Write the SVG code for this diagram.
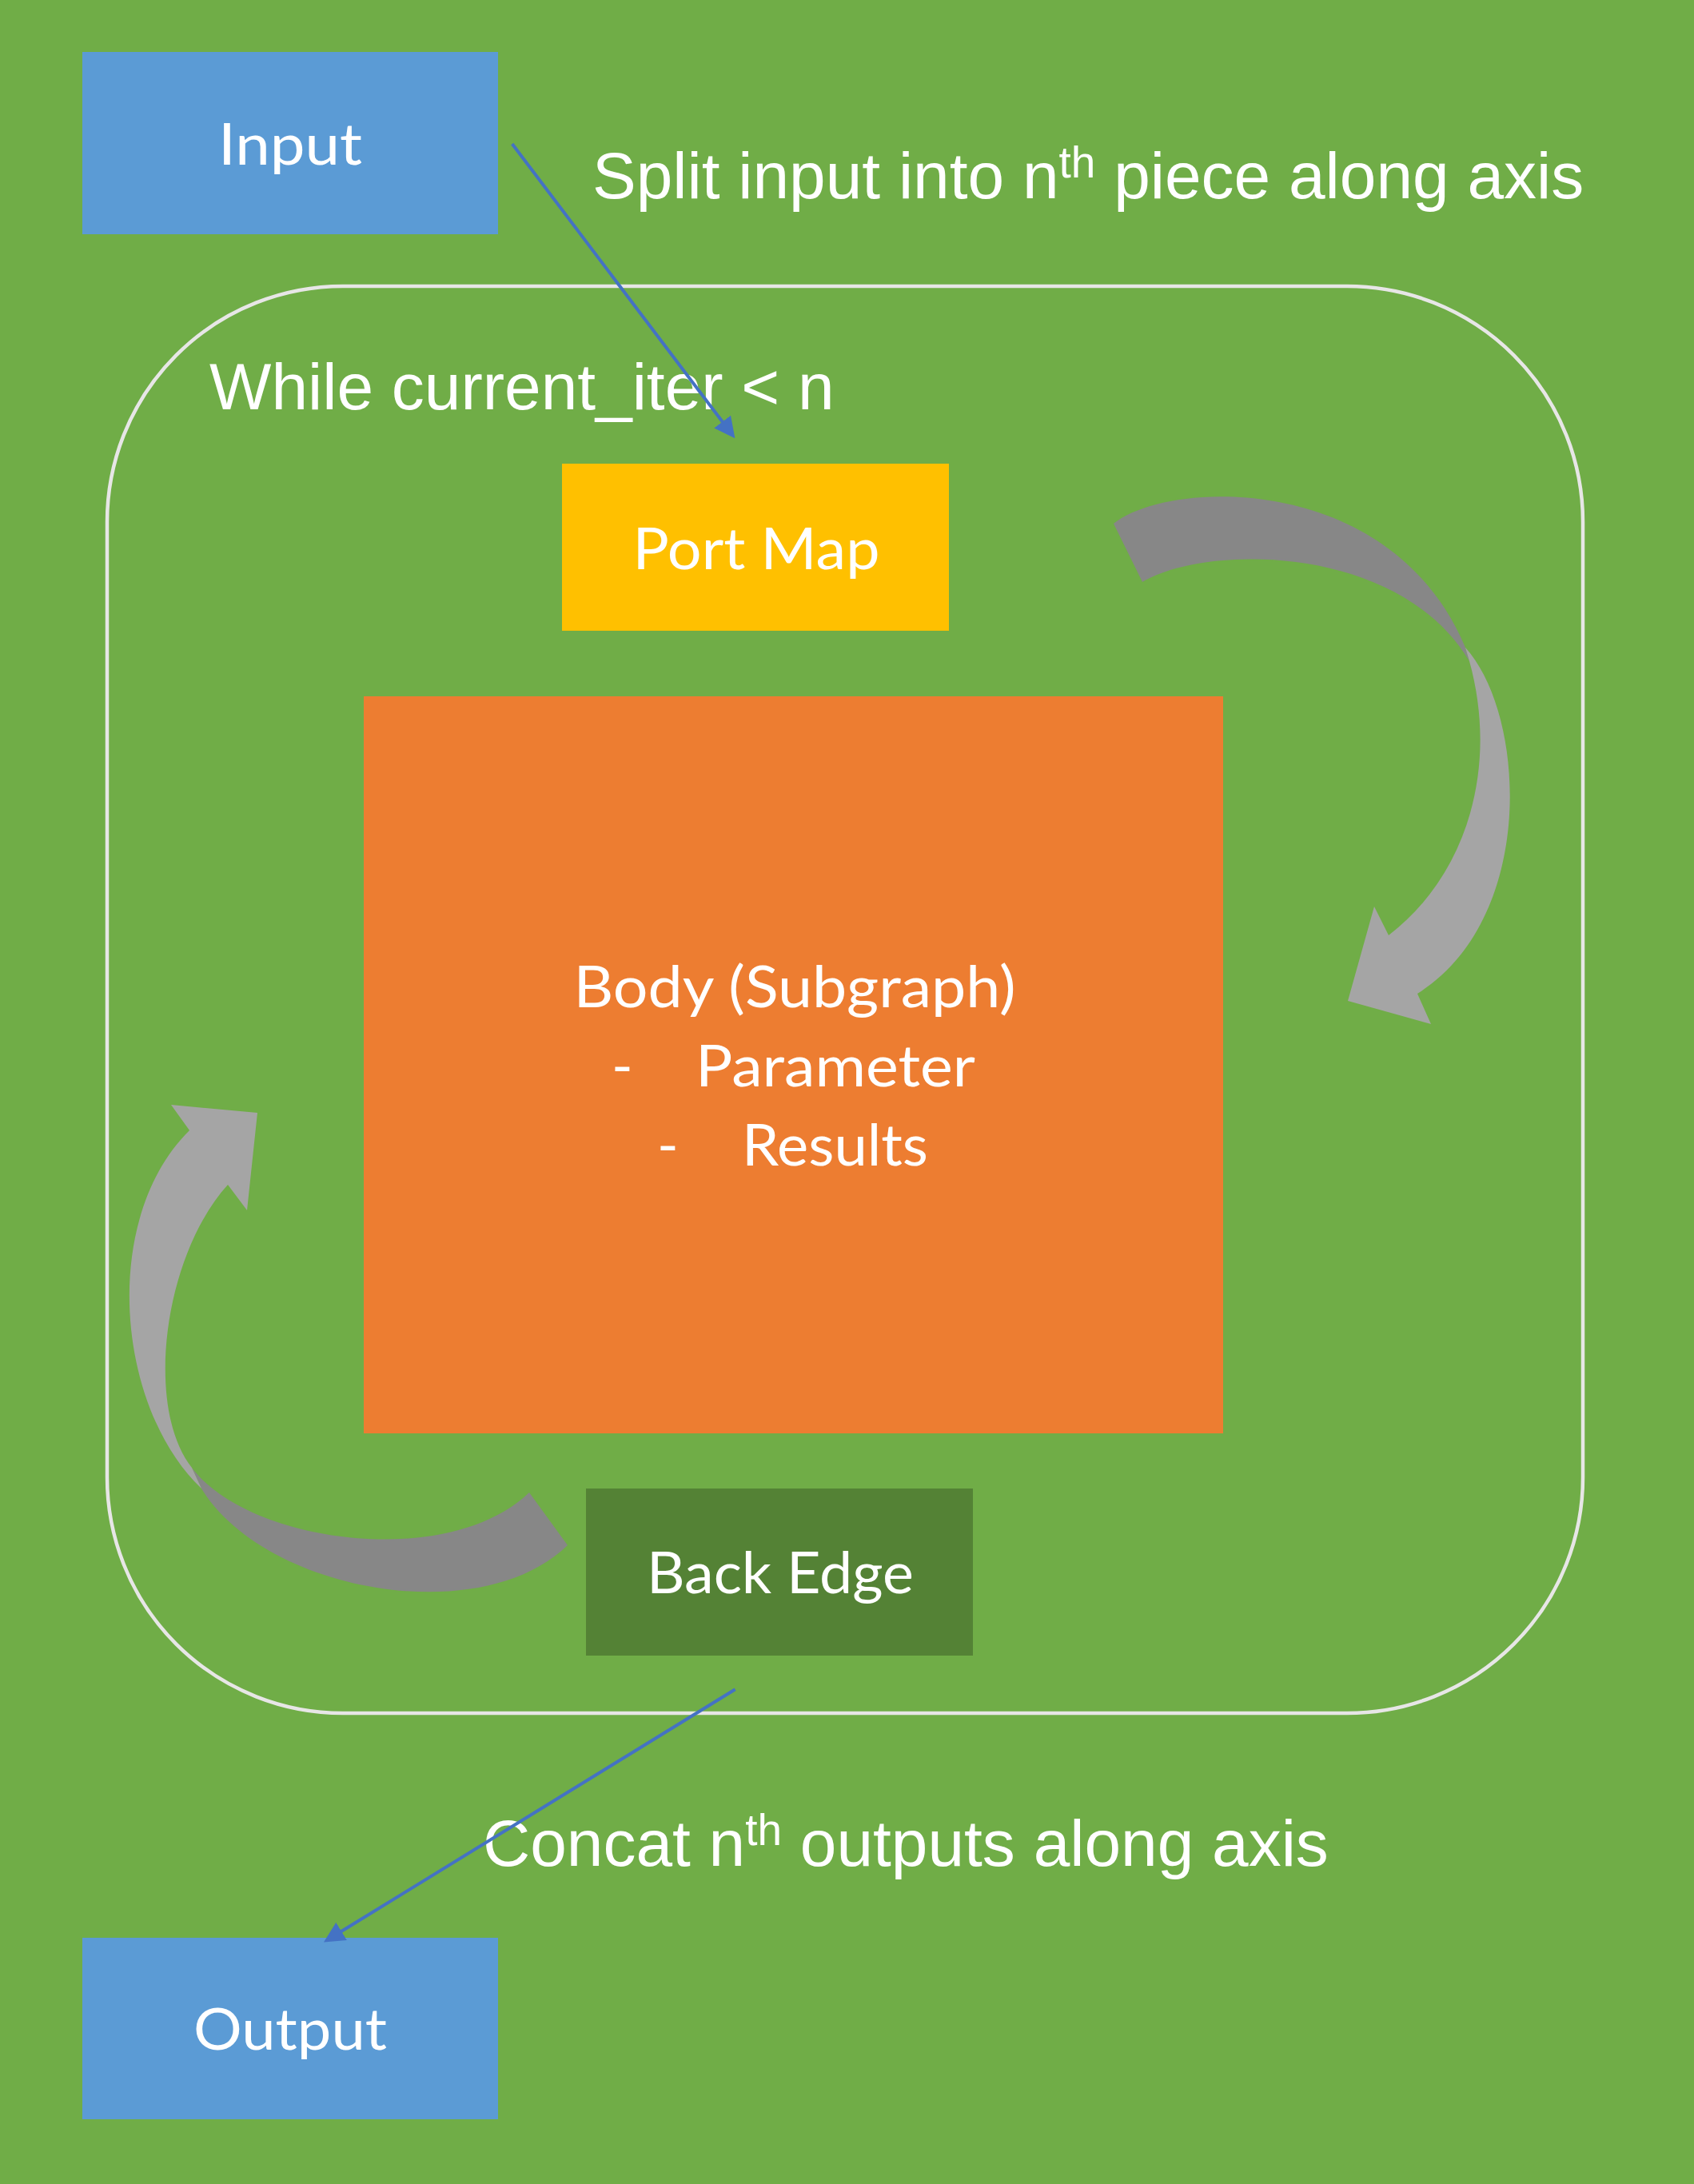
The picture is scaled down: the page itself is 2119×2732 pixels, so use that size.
<svg xmlns="http://www.w3.org/2000/svg" width="2119" height="2732" viewBox="0 0 2119 2732">
<defs>
<style>
.bg{fill:#70AD47}
.node-blue{fill:#5B9BD5}
.box-label{font-family:Lato,"Liberation Sans",Arial,sans-serif;font-size:72px;fill:#FFFFFF}
.big-label{font-family:"Liberation Sans",Arial,sans-serif;font-size:82px;fill:#FFFFFF}
.sup{font-size:55px}
.edge{stroke:#4472C4;stroke-width:4;fill:none;marker-end:url(#arrow)}
.loop-light{fill:#A5A5A5}
.loop-dark{fill:#878787}
</style>
<marker id="arrow" viewBox="0 0 26 26" refX="16" refY="13" markerWidth="26" markerHeight="26" markerUnits="userSpaceOnUse" orient="auto">
<path d="M0,0 L26,13 L0,26 Z" fill="#4472C4"/>
</marker>
</defs>
<rect class="bg" x="0" y="0" width="2119" height="2732"/>

<g id="loop-container">
<rect x="134" y="358" width="1846" height="1785" rx="295" ry="295" fill="none" stroke="#E7E6E6" stroke-width="4.5"/>
<text class="big-label" x="262" y="512">While current_iter &lt; n</text>
</g>

<g id="input">
<rect class="node-blue" x="103" y="65" width="520" height="228"/>
<text class="box-label" x="363" y="206" text-anchor="middle" textLength="180" lengthAdjust="spacingAndGlyphs">Input</text>
</g>

<g id="port-map">
<rect x="703" y="580" width="484" height="209" fill="#FFC000"/>
<text class="box-label" x="946" y="712" text-anchor="middle" textLength="309" lengthAdjust="spacingAndGlyphs">Port Map</text>
</g>

<g id="body">
<rect x="455" y="871" width="1075" height="922" fill="#ED7D31"/>
<text class="box-label" x="994" y="1260" text-anchor="middle" textLength="553" lengthAdjust="spacingAndGlyphs">Body (Subgraph)</text>
<text class="box-label" y="1359"><tspan x="765">-</tspan><tspan x="870" textLength="350" lengthAdjust="spacingAndGlyphs">Parameter</tspan></text>
<text class="box-label" y="1458"><tspan x="822">-</tspan><tspan x="928" textLength="233" lengthAdjust="spacingAndGlyphs">Results</tspan></text>
</g>

<g id="back-edge">
<rect x="733" y="1862" width="484" height="209" fill="#548235"/>
<text class="box-label" x="976" y="1993" text-anchor="middle" textLength="334" lengthAdjust="spacingAndGlyphs">Back Edge</text>
</g>

<g id="output">
<rect class="node-blue" x="103" y="2424" width="520" height="227"/>
<text class="box-label" x="363" y="2564" text-anchor="middle" textLength="242" lengthAdjust="spacingAndGlyphs">Output</text>
</g>

<g id="label-split">
<text class="big-label" x="741" y="248">Split input into n<tspan class="sup" dy="-26">th</tspan><tspan dy="26"> piece along axis</tspan></text>
</g>

<g id="label-concat">
<text class="big-label" x="604" y="2334">Concat n<tspan class="sup" dy="-26">th</tspan><tspan dy="26"> outputs along axis</tspan></text>
</g>

<g id="connectors">
<path class="edge" d="M640.7,180 L913.3,540.3"/>
<path class="edge" d="M919.6,2113.3 L413.5,2424.3"/>
<g id="loop-forward">
<path class="loop-dark" d="M1393,655 C1460,600 1740,588 1833,810 L1838,827 C1750,680 1510,680 1429,728 Z"/>
<path class="loop-light" d="M1833,810 C1910,895 1922,1150 1773,1243 L1790,1281 L1686,1252 L1719,1134 L1737,1170 C1835,1095 1875,960 1838,827 Z"/>
</g>
<g id="loop-back">
<path class="loop-dark" d="M240,1836 C310,1930 560,1965 662,1867 L710,1933 C600,2040 330,1990 252,1862 Z"/>
<path class="loop-light" d="M237,1414 L214,1382 L322,1392 L309,1514 L285,1482 C205,1570 180,1760 240,1836 L252,1862 C145,1760 125,1525 237,1414 Z"/>
</g>
</g>
</svg>
